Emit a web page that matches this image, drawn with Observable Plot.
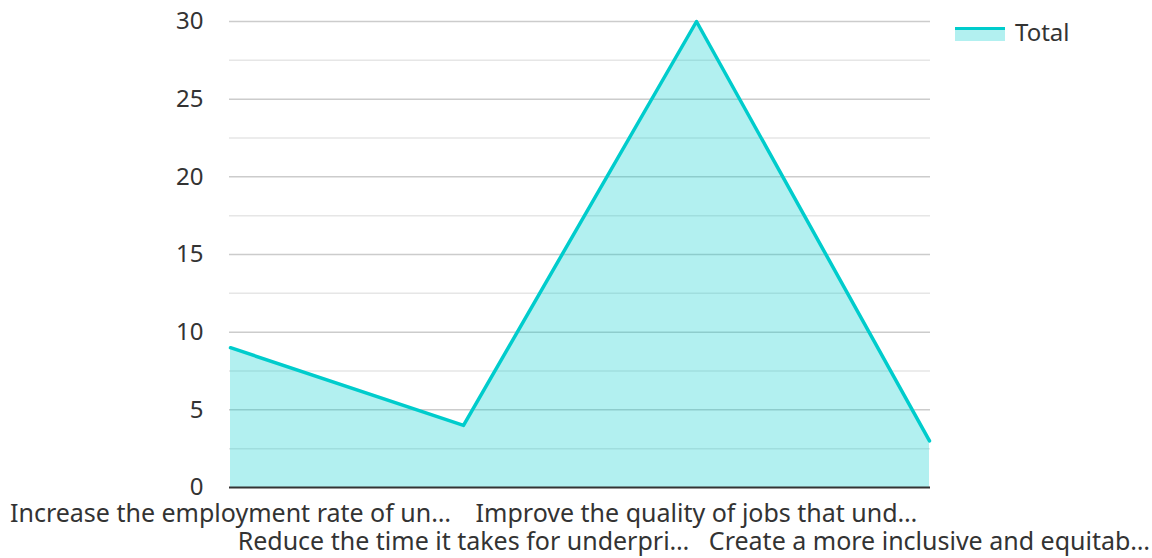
<!DOCTYPE html>
<html>
<head>
<meta charset="utf-8">
<script src="https://cdn.jsdelivr.net/npm/d3@7"></script>
<script src="https://cdn.jsdelivr.net/npm/@observablehq/plot@0.6"></script>
<style>
  html, body { margin: 0; padding: 0; background: #fff; }
  #wrap { position: relative; width: 1152px; height: 558px; font-family: "Noto Sans", sans-serif; }
  #legend { position: absolute; left: 955px; top: 16px; display: flex; align-items: center; gap: 10px; font-size: 24px; line-height: 32px; color: #333; }
  #legend .sw { width: 50px; height: 14px; position: relative; background: rgba(0,204,204,0.3); margin-top: 4px; }
  #legend .sw::before { content: ""; position: absolute; left: 0; right: 0; top: 0; height: 3px; background: #00cccc; }
</style>
</head>
<body>
<div id="wrap">
  <div id="chart"></div>
  <div id="legend"><span class="sw"></span><span>Total</span></div>
</div>
<script>
const categories = [
  "Increase the employment rate of un…",
  "Reduce the time it takes for underpri…",
  "Improve the quality of jobs that und…",
  "Create a more inclusive and equitab…"
];
const totals = [9, 4, 30, 3];
const yTicks = [0, 5, 10, 15, 20, 25, 30];
const minorTicks = [2.5, 7.5, 12.5, 17.5, 22.5, 27.5];
const seriesName = "Total";

const data = categories.map((c, i) => ({category: c, value: totals[i]}));
const color = "#00cccc";

const chart = Plot.plot({
  width: 1152,
  height: 558,
  marginLeft: 229,
  marginRight: 222,
  marginTop: 21,
  marginBottom: 71,
  style: {fontFamily: "Noto Sans, sans-serif", fontSize: "24px", color: "#333", background: "#fff", overflow: "visible"},
  x: {type: "point", domain: categories, padding: 0},
  y: {domain: [0, 30]},
  marks: [
    Plot.ruleY(minorTicks, {stroke: "#e6e6e6", strokeWidth: 1.5}),
    Plot.ruleY(yTicks.filter(d => d > 0), {stroke: "#cccccc", strokeWidth: 1.5}),
    Plot.areaY(data, {x: "category", y: "value", fill: color, fillOpacity: 0.3}),
    Plot.lineY(data, {x: "category", y: "value", stroke: color, strokeWidth: 3.5}),
    Plot.ruleY([0], {stroke: "#333", strokeWidth: 2}),
    Plot.axisY({ticks: yTicks, tickSize: 0, tickPadding: 26, fontSize: 24, fill: "#333", label: null}),
    Plot.axisX({ticks: [categories[0], categories[2]], tickSize: 0, tickPadding: 17, fontSize: 25, fill: "#333", label: null}),
    Plot.axisX({ticks: [categories[1], categories[3]], tickSize: 0, tickPadding: 45, fontSize: 25, fill: "#333", label: null})
  ]
});
document.getElementById("chart").appendChild(chart);
</script>
</body>
</html>
